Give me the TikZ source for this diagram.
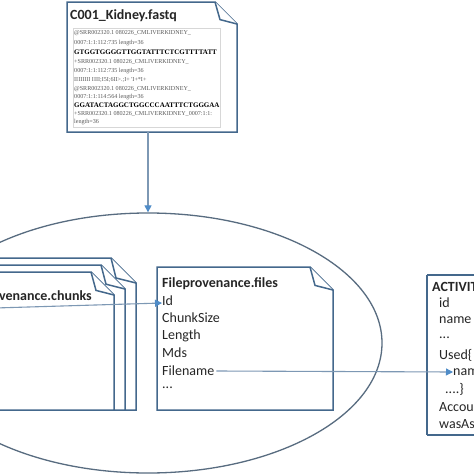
\documentclass[tikz,border=0pt]{standalone}
\usepackage{fontspec}
\setmainfont{Carlito}
\newfontfamily\fqfont{Liberation Serif}
\usetikzlibrary{shapes.geometric,arrows.meta}
\definecolor{docline}{RGB}{68,104,140}
\definecolor{ellline}{RGB}{88,108,128}
\definecolor{conn}{RGB}{125,152,180}
\definecolor{headc}{RGB}{79,140,200}
\definecolor{boxgray}{RGB}{215,215,215}
\newcommand\foldeddoc[5]{%
  \filldraw[docbox] (#1,#2) -- (#5,#2) -- (#3,{#2+#3-#5}) -- (#3,#4) -- (#1,#4) -- cycle;
  \draw[docbox] (#5,#2) -- ({#5+5},{#2+0.8*(#3-#5)}) -- (#3,{#2+#3-#5});
}
\begin{document}
\begin{tikzpicture}[x=1pt,y=-1pt,
  docbox/.style={draw=docline,line width=1.5pt,fill=white,line join=miter},
  lbl/.style={inner sep=0pt,anchor=west,font=\fontsize{14}{16}\selectfont,text=black!85},
  ttl/.style={lbl,font=\fontsize{14}{16}\selectfont\bfseries},
  fqs/.style={inner sep=0pt,anchor=west,font=\fqfont\fontsize{6.1}{6.5}\selectfont,text=black!65},
  fqb/.style={inner sep=0pt,anchor=west,font=\fqfont\fontsize{7}{7.5}\selectfont\bfseries,text=black},
  conline/.style={draw=conn,line width=1.1pt,-{Triangle[length=7pt,width=7pt,color=headc]}}]
\useasboundingbox (0,0) rectangle (474,474);
\fill[white] (0,0) rectangle (474,474);
% ellipse
\node[ellipse,draw=ellline,line width=1.3pt,minimum width=468pt,minimum height=260pt,inner sep=0pt] (ell) at (148,343) {};
% top fastq document
\foldeddoc{67}{2}{237}{132}{215}
\coordinate (fq) at (148,132);
\draw[boxgray,line width=0.8pt] (73,28) rectangle (220,127);
\node[ttl] (fqt) at (70,16) {C001\_Kidney.fastq};
\node[fqs] (l1) at (74,33) {@SRR002320.1 080226\_CMLIVERKIDNEY\_};
\node[fqs] (l2) at (74,43) {0007:1:1:112:735 length=36};
\node[fqb] (l3) at (74,52) {GTGGTGGGGTTGGTATTTCTCGTTTTATT};
\node[fqs] (l4) at (74,62) {+SRR002320.1 080226\_CMLIVERKIDNEY\_};
\node[fqs] (l5) at (74,71) {0007:1:1:112:735 length=36};
\node[fqs] (l6) at (74,80) {IIIIIIII IIII;I5I;6II>.;I+ 'I+*I+};
\node[fqs] (l7) at (74,89) {@SRR002320.1 080226\_CMLIVERKIDNEY\_};
\node[fqs] (l8) at (74,97) {0007:1:1:114:564 length=36};
\node[fqb] (l9) at (74,105) {GGATACTAGGCTGGCCCAATTTCTGGGAA};
\node[fqs] (l10) at (74,114) {+SRR002320.1 080226\_CMLIVERKIDNEY\_0007:1:1:};
\node[fqs] (l11) at (74,122) {length=36};
\draw[conline] (fq) -- (ell.north);
% chunks documents
\foldeddoc{-20}{258}{136}{410}{111}
\foldeddoc{-20}{265}{125}{410}{101}
\foldeddoc{-20}{272}{114}{410}{91}
\node[ttl,anchor=east] (cht) at (92,297) {Fileprovenance.chunks};
\coordinate (chs) at (-5,308);
% files document
\foldeddoc{157}{267}{333}{410}{310}
\node[ttl] (ft) at (162,284) {Fileprovenance.files};
\node[lbl] (fid) at (162,301) {Id};
\node[lbl] (fcs) at (162,318) {ChunkSize};
\node[lbl] (flen) at (162,336) {Length};
\node[lbl] (fmds) at (162,353) {Mds};
\node[lbl] (ffn) at (162,371) {Filename};
\node[lbl] (fdots) at (162,388) {...};
\draw[conline] (chs) -- (fid.west |- 0,303);
% activity box
\draw[docbox] (427,275) -- (490,275) (490,435) -- (427,435);
\draw[docbox] (427,275) -- (427,435);
\node[ttl] (at) at (432,287) {ACTIVITY};
\node[lbl] (aid) at (439,303) {id};
\node[lbl] (aname) at (439,320) {name};
\node[lbl] (adots) at (439,338) {...};
\node[lbl] (aused) at (439,355) {Used\{};
\node[lbl] (aun) at (453,372) {name};
\node[lbl] (aclose) at (445,389) {....\}};
\node[lbl] (aacc) at (439,407) {Account};
\node[lbl] (awas) at (439,424) {wasAssociatedWith};
\draw[conline] ([xshift=2pt]ffn.east) -- (aun.west);
\end{tikzpicture}
\end{document}
